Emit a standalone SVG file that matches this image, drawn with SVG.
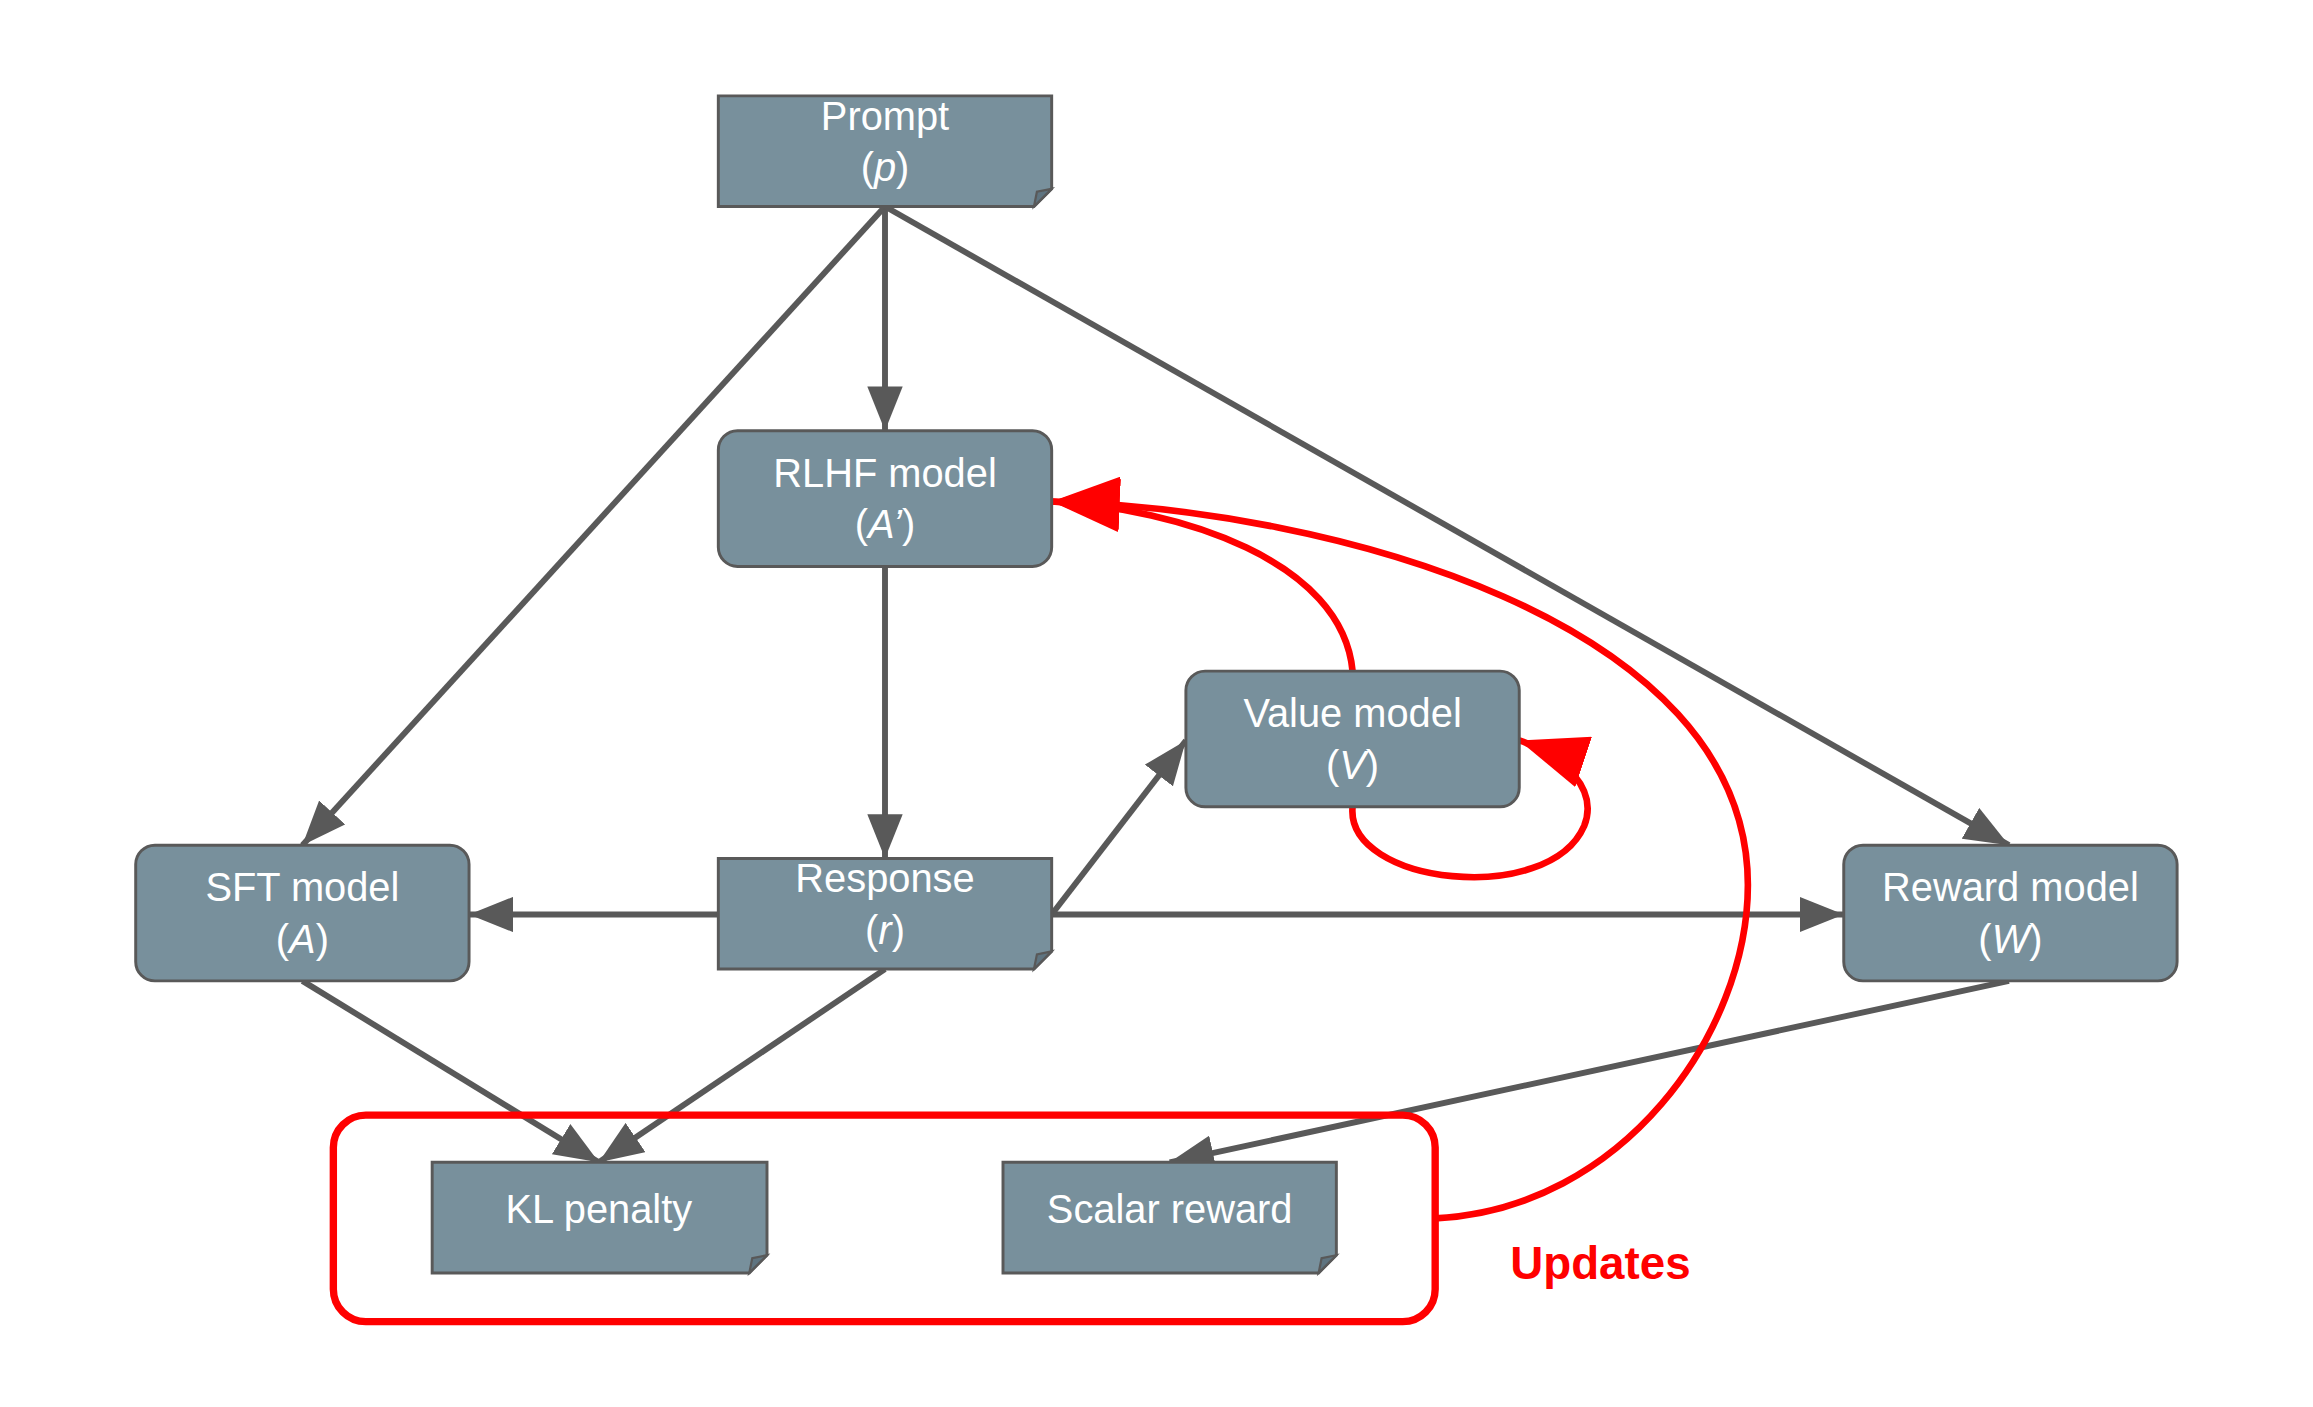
<svg xmlns="http://www.w3.org/2000/svg" width="2313" height="1407" viewBox="0 0 2313 1407">
<style>
.n{fill:#78909c;stroke:#595959;stroke-width:2}
.t{fill:#fff;font-family:"Liberation Sans",Arial,sans-serif;font-size:27px;text-anchor:middle}
.g{fill:none;stroke:#595959;stroke-width:4}
.r{fill:none;stroke:#ff0000;stroke-width:4.5}
</style>
<defs>
<marker id="ag" markerUnits="userSpaceOnUse" viewBox="0 0 30 24" refX="30" refY="12" markerWidth="30" markerHeight="24" orient="auto"><path d="M0,0L30,12L0,24Z" fill="#595959"/></marker>
<marker id="ar" markerUnits="userSpaceOnUse" viewBox="0 0 46 36" refX="46" refY="18" markerWidth="46" markerHeight="36" orient="auto"><path d="M0,0L46,18L0,36Z" fill="#ff0000"/></marker>
</defs>
<rect width="2313" height="1407" fill="#fff"/>
<g transform="scale(1.475)">
<g id="connectors">
<path class="g" d="M600,140L600,292" marker-end="url(#ag)"/>
<path class="g" d="M600,140L205,573" marker-end="url(#ag)"/>
<path class="g" d="M600,140L1362,573" marker-end="url(#ag)"/>
<path class="g" d="M600,384L600,582" marker-end="url(#ag)"/>
<path class="g" d="M487,620L318,620" marker-end="url(#ag)"/>
<path class="g" d="M713,620L1250,620" marker-end="url(#ag)"/>
<path class="g" d="M713,620L804,502" marker-end="url(#ag)"/>
<path class="g" d="M205,665L406,788" marker-end="url(#ag)"/>
<path class="g" d="M600,657L406,788" marker-end="url(#ag)"/>
<path class="g" d="M1362,665L793,788" marker-end="url(#ag)"/>
<path class="r" d="M917,455C910,380 800,345 713,340" marker-end="url(#ar)"/>
<path class="r" d="M917,547C912,600 1050,615 1074,560C1084,535 1060,512 1030,502" marker-end="url(#ar)"/>
<path class="r" d="M973,826C1100,820 1185,700 1185,600C1185,420 900,345 713,340" marker-end="url(#ar)"/>
</g>
<g id="prompt"><path class="n" d="M487,65H713V128L701,140H487Z"/><path d="M701,140L703,130L713,128Z" fill="#5f7480" stroke="#595959" stroke-width="1.5"/><text class="t" x="600" y="88">Prompt</text><text class="t" x="600" y="123">(<tspan font-style="italic">p</tspan>)</text></g>
<g id="rlhf"><rect class="n" x="487" y="292" width="226" height="92" rx="13"/><text class="t" x="600" y="330">RLHF model</text><text class="t" x="600" y="365">(<tspan font-style="italic">A’</tspan>)</text></g>
<g id="value"><rect class="n" x="804" y="455" width="226" height="92" rx="13"/><text class="t" x="917" y="493">Value model</text><text class="t" x="917" y="528">(<tspan font-style="italic">V</tspan>)</text></g>
<g id="sft"><rect class="n" x="92" y="573" width="226" height="92" rx="13"/><text class="t" x="205" y="611">SFT model</text><text class="t" x="205" y="646">(<tspan font-style="italic">A</tspan>)</text></g>
<g id="response"><path class="n" d="M487,582H713V645L701,657H487Z"/><path d="M701,657L703,647L713,645Z" fill="#5f7480" stroke="#595959" stroke-width="1.5"/><text class="t" x="600" y="605">Response</text><text class="t" x="600" y="640">(<tspan font-style="italic">r</tspan>)</text></g>
<g id="reward"><rect class="n" x="1250" y="573" width="226" height="92" rx="13"/><text class="t" x="1363" y="611">Reward model</text><text class="t" x="1363" y="646">(<tspan font-style="italic">W</tspan>)</text></g>
<g id="updates"><rect x="226" y="756" width="747" height="140" rx="22" fill="none" stroke="#ff0000" stroke-width="5"/><text x="1085" y="867" fill="#ff0000" font-family="Liberation Sans,Arial,sans-serif" font-size="31" font-weight="bold" text-anchor="middle">Updates</text></g>
<g id="kl"><path class="n" d="M293,788H520V851L508,863H293Z"/><path d="M508,863L510,853L520,851Z" fill="#5f7480" stroke="#595959" stroke-width="1.5"/><text class="t" x="406" y="829">KL penalty</text></g>
<g id="scalar"><path class="n" d="M680,788H906V851L894,863H680Z"/><path d="M894,863L896,853L906,851Z" fill="#5f7480" stroke="#595959" stroke-width="1.5"/><text class="t" x="793" y="829">Scalar reward</text></g>
</g>
</svg>
